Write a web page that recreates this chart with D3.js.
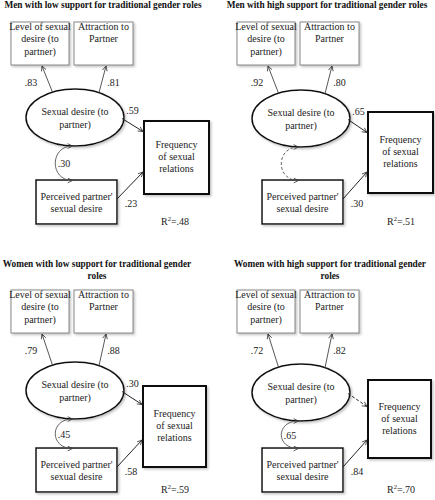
<!DOCTYPE html>
<html lang="en">
<head>
    <meta charset="UTF-8">
    <title>Path models</title>
    <script src="https://d3js.org/d3.v7.min.js"></script>
    <style>
        body { margin: 0; background: #fff; }
        svg text { fill: #222; }
        .title { font-weight: bold; font-size: 9.3px; fill: #111; }
        .node { font-size: 10px; }
        .coef { font-size: 10px; }
    </style>
</head>
<body>
    <script>
        // one entry per group (panel)
        const titleLines = [
            ["Men with low support for traditional gender roles"],
            ["Men with high support for traditional gender roles"],
            ["Women with low support for traditional gender", "roles"],
            ["Women with high support for traditional gender", "roles"]
        ];
        const sex = ["men", "men", "women", "women"];
        const support = ["low", "high", "low", "high"];
        const loadingLevel = [.83, .92, .79, .72];
        const loadingAttraction = [.81, .80, .88, .82];
        const pathDesire = [.59, .65, .30, null];      // null = not significant, dashed
        const pathPerceived = [.23, .30, .58, .84];
        const covariance = [.30, null, .45, .65];
        const rSquared = [.48, .51, .59, .70];

        // node labels
        const levelLabel = ["Level of sexual", "desire (to", "partner)"];
        const attractionLabel = ["Attraction to", "Partner"];
        const desireLabel = ["Sexual desire (to", "partner)"];
        const freqLabel = ["Frequency", "of sexual", "relations"];
        const perceivedLabel = ["Perceived partner'", "sexual desire"];

        const w = 435;
        const h = 500;

        const svg = d3.select("body")
                        .append("svg")
                        .attr("width", w)
                        .attr("height", h)
                        .attr("font-family", "'Liberation Serif', 'Times New Roman', 'DejaVu Serif', serif");

        const defs = svg.append("defs");
        defs.append("filter")
            .attr("id", "shadow")
            .attr("x", "-20%").attr("y", "-20%")
            .attr("width", "150%").attr("height", "150%")
            .append("feDropShadow")
            .attr("dx", 1.5).attr("dy", 1.5)
            .attr("stdDeviation", 1)
            .attr("flood-color", "#999")
            .attr("flood-opacity", 0.6);

        defs.append("marker")
            .attr("id", "arrow")
            .attr("viewBox", "0 0 10 10")
            .attr("refX", 9).attr("refY", 5)
            .attr("markerWidth", 6).attr("markerHeight", 6)
            .attr("markerUnits", "userSpaceOnUse")
            .attr("orient", "auto-start-reverse")
            .append("path")
            .attr("d", "M1,1 L9,5 L1,9")
            .attr("fill", "none")
            .attr("stroke", "#333")
            .attr("stroke-width", 1.3);

        // panel placement
        const col = d3.scalePoint().domain(["low", "high"]).range([0, 226]);
        const row = d3.scalePoint().domain(["men", "women"]).range([0, 268]);

        const fmt = (v) => d3.format(".2f")(v).replace(/^0/, "");

        // per panel geometry (local coords)
        const ellipseCy = [117.5, 118.5, 122.5, 124.5];
        const freqBox = [
            [144, 121, 65, 73],
            [142, 112, 65, 81],
            [143, 118, 63, 81],
            [142, 112, 63, 78]
        ];
        const titleY = [7.5, 7.5, -0.7, -0.7];
        const titleX = [103, 101, 97, 104];

        const cx = 75, rx = 49, ry = 28.5;
        const box1 = [11, 22, 58, 43];
        const box2 = [74, 22, 59, 43];
        const perc = [36, 180, 81, 44];

        function multiline(g, lines, x, y, lh) {
            const t = g.append("text")
                .attr("class", "node")
                .attr("text-anchor", "middle");
            lines.forEach((l, i) => {
                t.append("tspan").attr("x", x).attr("y", y + i * lh).text(l);
            });
        }

        function ellipseY(cy, dx) {
            return cy - ry * Math.sqrt(1 - (dx / rx) * (dx / rx));
        }

        titleLines.forEach((tl, i) => {
            const g = svg.append("g")
                .attr("transform", "translate(" + col(support[i]) + "," + row(sex[i]) + ")");
            const cy = ellipseCy[i];
            const fb = freqBox[i];

            // title
            const tt = g.append("text").attr("class", "title").attr("text-anchor", "middle");
            tl.forEach((l, j) => {
                tt.append("tspan").attr("x", titleX[i]).attr("y", titleY[i] + j * 11.3).text(l);
            });

            // indicator boxes
            [box1, box2].forEach((b) => {
                g.append("rect")
                    .attr("x", b[0]).attr("y", b[1])
                    .attr("width", b[2]).attr("height", b[3])
                    .attr("fill", "#fff")
                    .attr("stroke", "#888")
                    .attr("stroke-width", 1)
                    .attr("filter", "url(#shadow)");
            });
            multiline(g, levelLabel, box1[0] + box1[2] / 2, box1[1] + 7.5, 12.5);
            multiline(g, attractionLabel, box2[0] + box2[2] / 2, box2[1] + 7.5, 12.5);

            // latent ellipse
            g.append("ellipse")
                .attr("cx", cx).attr("cy", cy)
                .attr("rx", rx).attr("ry", ry)
                .attr("fill", "#fff")
                .attr("stroke", "#111")
                .attr("stroke-width", 1.5)
                .attr("filter", "url(#shadow)");
            multiline(g, desireLabel, cx, cy - 3, 13);

            // outcome box
            g.append("rect")
                .attr("x", fb[0]).attr("y", fb[1])
                .attr("width", fb[2]).attr("height", fb[3])
                .attr("fill", "#fff")
                .attr("stroke", "#111")
                .attr("stroke-width", 2)
                .attr("filter", "url(#shadow)");
            multiline(g, freqLabel, fb[0] + fb[2] / 2, fb[1] + fb[3] / 2 - 9.5, 12);

            // perceived box
            g.append("rect")
                .attr("x", perc[0]).attr("y", perc[1])
                .attr("width", perc[2]).attr("height", perc[3])
                .attr("fill", "#fff")
                .attr("stroke", "#111")
                .attr("stroke-width", 1.5)
                .attr("filter", "url(#shadow)");
            multiline(g, perceivedLabel, perc[0] + perc[2] / 2, perc[1] + perc[3] / 2 - 2, 11.5);

            // loadings
            const loads = [
                [-22.5, box1[0] + box1[2] / 2 + 2, loadingLevel[i], 31],
                [24, box2[0] + box2[2] / 2 + 2.5, loadingAttraction[i], 113.5]
            ];
            loads.forEach((l) => {
                g.append("line")
                    .attr("x1", cx + l[0]).attr("y1", ellipseY(cy, l[0]))
                    .attr("x2", l[1]).attr("y2", box1[1] + box1[3] + 1)
                    .attr("stroke", "#444")
                    .attr("stroke-width", 0.9)
                    .attr("marker-end", "url(#arrow)");
                g.append("text")
                    .attr("class", "coef")
                    .attr("text-anchor", "middle")
                    .attr("x", l[3]).attr("y", 86)
                    .text(fmt(l[2]));
            });

            // desire -> frequency
            g.append("line")
                .attr("x1", cx + rx - 2).attr("y1", cy + 1)
                .attr("x2", fb[0] - 1).attr("y2", cy + 14)
                .attr("stroke", "#222")
                .attr("stroke-width", 1)
                .attr("stroke-dasharray", pathDesire[i] == null ? "3,2" : null)
                .attr("marker-end", "url(#arrow)");
            if (pathDesire[i] != null) {
                g.append("text")
                    .attr("class", "coef")
                    .attr("text-anchor", "middle")
                    .attr("x", 132.5).attr("y", cy - 3.5)
                    .text(fmt(pathDesire[i]));
            }

            // perceived -> frequency
            g.append("line")
                .attr("x1", perc[0] + perc[2]).attr("y1", perc[1] + 19)
                .attr("x2", fb[0] - 1).attr("y2", perc[1] - 8)
                .attr("stroke", "#222")
                .attr("stroke-width", 1)
                .attr("marker-end", "url(#arrow)");
            g.append("text")
                .attr("class", "coef")
                .attr("text-anchor", "middle")
                .attr("x", 131).attr("y", 206.5)
                .text(fmt(pathPerceived[i]));

            // covariance
            const sx = cx - 2.5, y1 = cy + ry, y2 = perc[1] + 0.5;
            g.append("path")
                .attr("d", "M" + sx + "," + y1 + " C" + (sx - 23) + "," + y1 + " " + (sx - 23) + "," + y2 + " " + sx + "," + y2)
                .attr("fill", "none")
                .attr("stroke", "#555")
                .attr("stroke-width", 0.9)
                .attr("stroke-dasharray", covariance[i] == null ? "3,2" : null)
                .attr("marker-start", "url(#arrow)")
                .attr("marker-end", "url(#arrow)");
            if (covariance[i] != null) {
                g.append("text")
                    .attr("class", "coef")
                    .attr("text-anchor", "middle")
                    .attr("x", 64).attr("y", (y1 + y2) / 2 + 4)
                    .text(fmt(covariance[i]));
            }

            // R squared
            const r = g.append("text")
                .attr("class", "coef")
                .attr("x", 161).attr("y", 224.5);
            r.append("tspan").text("R");
            r.append("tspan").attr("dy", -4).attr("font-size", "6.5px").text("2");
            r.append("tspan").attr("dy", 4).text("=" + fmt(rSquared[i]));
        });
    </script>
</body>
</html>
